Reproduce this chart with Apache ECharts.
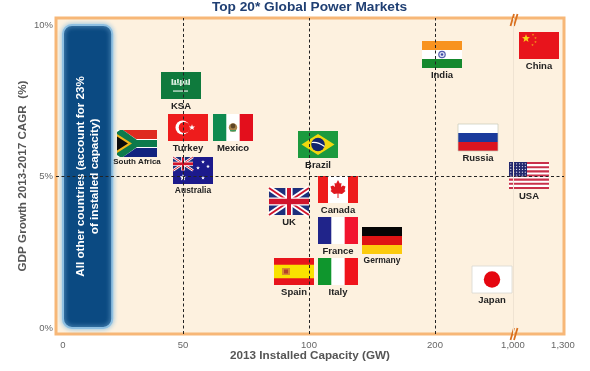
<!DOCTYPE html>
<html>
<head>
<meta charset="utf-8">
<script src="https://cdn.jsdelivr.net/npm/echarts@6/dist/echarts.min.js"></script>
<style>
html,body{margin:0;padding:0;background:#fff;}
#chart{width:590px;height:371px;filter:blur(0.3px);}
</style>
</head>
<body>
<div id="chart"></div>
<script>
var countries = ['KSA','Turkey','Mexico','South Africa','Australia','Brazil','India','China','Russia','USA','Canada','UK','France','Germany','Spain','Italy','Japan'];
var capacityGW = [49,52,70,31,54,107,269,1156,646,1096,123,92,123,158,94,123,781];
var growthPct = [8.0,6.63,6.63,6.1,5.2,6.07,9.03,9.32,6.27,5.03,4.57,4.17,3.2,2.87,1.86,1.86,1.6];

// x axis is broken, so tick capacity values sit at hand-read axis positions
var xTickGW = [0,50,100,200,1000,1300];
var xTickPos = [0,120,246,372,450,500];
var xTickLabels = ['0','50','100','200','1,000','1,300'];
var yTicks = [0,5,10];
var otherCountriesGW = 20.5;

function toPos(gw){
    for(var i=1;i<xTickGW.length;i++){
        if(gw<=xTickGW[i]){
            return xTickPos[i-1]+(gw-xTickGW[i-1])/(xTickGW[i]-xTickGW[i-1])*(xTickPos[i]-xTickPos[i-1]);
        }
    }
    return xTickPos[xTickPos.length-1];
}

var FW = 40, FH = 27;

function rect(x,y,w,h,c){
    return {type:'rect',shape:{x:x,y:y,width:w,height:h},style:{fill:c}};
}
function circle(x,y,r,c){
    return {type:'circle',shape:{cx:x,cy:y,r:r},style:{fill:c}};
}
function poly(pts,c){
    return {type:'polygon',shape:{points:pts},style:{fill:c}};
}
function star(x,y,r,c){
    var pts=[];
    for(var i=0;i<10;i++){
        var a=-Math.PI/2+i*Math.PI/5;
        var q=i%2?r*0.42:r;
        pts.push([x+q*Math.cos(a),y+q*Math.sin(a)]);
    }
    return poly(pts,c);
}
function seg(x1,y1,x2,y2,c,w){
    return {type:'line',shape:{x1:x1,y1:y1,x2:x2,y2:y2},style:{stroke:c,lineWidth:w}};
}
function vbars(a,b,c){
    return [rect(0,0,FW/3+0.5,FH,a),rect(FW/3,0,FW/3+0.5,FH,b),rect(2*FW/3,0,FW/3,FH,c)];
}
function hbars(a,b,c){
    return [rect(0,0,FW,FH/3+0.5,a),rect(0,FH/3,FW,FH/3+0.5,b),rect(0,2*FH/3,FW,FH/3,c)];
}
function jack(w,h){
    return [
        rect(0,0,w,h,'#1c2f7c'),
        seg(0,0,w,h,'#fff',h*0.2),seg(w,0,0,h,'#fff',h*0.2),
        seg(0,0,w,h,'#d0142c',h*0.07),seg(w,0,0,h,'#d0142c',h*0.07),
        rect(w*0.41,0,w*0.18,h,'#fff'),rect(0,h*0.35,w,h*0.3,'#fff'),
        rect(w*0.45,0,w*0.1,h,'#d0142c'),rect(0,h*0.4,w,h*0.2,'#d0142c')
    ];
}

var flags = {
    'KSA':function(){
        var c=[rect(0,0,FW,FH,'#0f7a3d')];
        for(var i=0;i<7;i++){
            c.push(rect(10.5+i*2.8,7+(i%2),1.7,6-(i%3),'#dcefe2'));
        }
        c.push(rect(11,11.5,18,1.2,'#bfe0ca'),rect(12,18.5,15,1.1,'#f2f8f3'));
        return c;
    },
    'Turkey':function(){
        return [rect(0,0,FW,FH,'#ee1c1c'),circle(14.5,13.5,7,'#fff'),circle(16.3,13.5,5.6,'#ee1c1c'),star(24,13.5,3.2,'#fff')];
    },
    'Mexico':function(){
        return vbars('#0f8a50','#fff','#e30f1c').concat([circle(20,13.5,4.2,'#a7834a'),circle(20,12,2.4,'#5e4526'),rect(17,16,6,1.4,'#3d9a5c')]);
    },
    'South Africa':function(){
        return [
            rect(0,0,FW,13.5,'#df2a1f'),rect(0,13.5,FW,13.5,'#12237f'),
            poly([[0,0],[6,0],[19,9],[40,9],[40,18],[19,18],[6,27],[0,27]],'#fff'),
            poly([[0,2],[3,0],[6,0],[20,10],[40,10],[40,17],[20,17],[6,27],[3,27],[0,25]],'#0d7a4c'),
            poly([[0,4],[15,13.5],[0,23]],'#f3b61a'),
            poly([[0,6.5],[11,13.5],[0,20.5]],'#0c0c0c')
        ];
    },
    'Australia':function(){
        var c=[rect(0,0,FW,FH,'#1c1a8c')].concat(jack(20,13.5));
        c.push(star(10,20.5,3.6,'#fff'),star(30,5,2,'#fff'),star(30,21,2,'#fff'),star(25,11,2,'#fff'),star(35,9.5,2,'#fff'));
        return c;
    },
    'Brazil':function(){
        return [rect(0,0,FW,FH,'#1c9a3e'),poly([[20,3],[36.5,13.5],[20,24],[3.5,13.5]],'#f1d80f'),circle(20,13.5,6.8,'#12276e'),
            {type:'path',shape:{pathData:'M13.8 11.5 Q20 10.5 26.5 15.5',x:0,y:0},style:{fill:null,stroke:'#fff',lineWidth:1.1}}];
    },
    'India':function(){
        return hbars('#f8931f','#fff','#15892d').concat([circle(20,13.5,3.8,'#5560b0'),circle(20,13.5,2.6,'#dfe1f2'),circle(20,13.5,1.2,'#3b4aa5')]);
    },
    'China':function(){
        return [rect(0,0,FW,FH,'#e8141c'),star(7,6.5,4.2,'#f6d418'),star(14,2.8,1.3,'#f6a018'),star(16.5,6,1.3,'#f6a018'),star(16.5,10,1.3,'#f6a018'),star(13.5,13,1.3,'#f6a018')];
    },
    'Russia':function(){
        var c=hbars('#fff','#1a3a9c','#dc1520');
        c.push({type:'rect',shape:{x:0,y:0,width:FW,height:FH},style:{fill:null,stroke:'#c5c9b8',lineWidth:0.7}});
        return c;
    },
    'USA':function(){
        var c=[rect(0,0,FW,FH,'#fff')];
        for(var i=0;i<7;i++){
            c.push(rect(0,i*FH*2/13,FW,FH/13,'#c9304a'));
        }
        c.push(rect(0,0,18,14.5,'#24296e'));
        for(var r=0;r<5;r++){
            for(var k=0;k<6;k++){
                c.push(circle(1.8+k*2.9,1.8+r*2.8,0.6,'#e8eaf5'));
            }
        }
        return c;
    },
    'Canada':function(){
        return [rect(0,0,10,FH,'#ee1c1c'),rect(10,0,20,FH,'#fff'),rect(30,0,10,FH,'#ee1c1c'),
            poly([[20,4],[21.8,7.5],[23.5,7],[23,11],[25,9.5],[27.5,10.5],[26.5,14],[27.5,15],[24,18],[20.5,17.5],[20.5,22],[19.5,22],[19.5,17.5],[16,18],[12.5,15],[13.5,14],[12.5,10.5],[15,9.5],[17,11],[16.5,7],[18.2,7.5]],'#e0181f')];
    },
    'UK':function(){
        return jack(FW,FH);
    },
    'France':function(){
        return vbars('#20248a','#fff','#f2142e');
    },
    'Germany':function(){
        return hbars('#050505','#df1414','#fccb0d');
    },
    'Spain':function(){
        return [rect(0,0,FW,FH,'#e8141c'),rect(0,6.8,FW,13.4,'#f9e200'),rect(8,10,8,7,'#d88a2f'),rect(10,11.5,4,4,'#b3432a')];
    },
    'Italy':function(){
        return vbars('#0f962d','#fff','#f0141c');
    },
    'Japan':function(){
        return [rect(0,0,FW,FH,'#fff'),circle(20,13.5,8.2,'#e5060f'),
            {type:'rect',shape:{x:0,y:0,width:FW,height:FH},style:{fill:null,stroke:'#d8d8d0',lineWidth:0.8}}];
    }
};
var smallLabels = {'South Africa':8,'Germany':8.5,'Australia':8.5};

var chart = echarts.init(document.getElementById('chart'),null,{renderer:'canvas'});

var flagData=[];
for(var i=0;i<countries.length;i++){
    flagData.push([toPos(capacityGW[i]),growthPct[i],i]);
}

function renderFlag(params,api){
    var p=api.coord([api.value(0),api.value(1)]);
    var name=countries[api.value(2)];
    var size=smallLabels[name]||9.5;
    var children=flags[name]();
    children.push({type:'text',style:{text:name,x:FW/2,y:FH+(name==='South Africa'?1:2.5),textAlign:'center',textVerticalAlign:'top',
        font:'bold '+size+'px "Liberation Sans"',fill:'#222'}});
    return {type:'group',x:Math.round(p[0]-FW/2),y:Math.round(p[1]-FH/2),children:children};
}

function renderBox(params,api){
    var a=api.coord([0,10]);
    var b=api.coord([toPos(otherCountriesGW),0]);
    return {type:'group',children:[
        {type:'rect',shape:{x:a[0],y:a[1],width:b[0]-a[0],height:b[1]-a[1],r:9},
            style:{fill:'#0b4a82',stroke:'#8fc0e2',lineWidth:2,shadowBlur:5,shadowColor:'#8fc0e2'}},
        {type:'text',rotation:Math.PI/2,x:(a[0]+b[0])/2,y:(a[1]+b[1])/2,
            style:{text:'All other countries (account for 23%\nof installed capacity)',textAlign:'center',textVerticalAlign:'middle',
                font:'bold 11.7px "Liberation Sans"',fill:'#fff',lineHeight:13.5}}
    ]};
}

function renderBreak(params,api){
    var p=api.coord([xTickPos[4],api.value(1)]);
    return {type:'group',x:p[0],y:p[1],children:[
        seg(-2.5,6,1,-6,'#d9701f',1.8),seg(1,6,4.5,-6,'#d9701f',1.8)
    ]};
}

var dash={color:'#222',type:[3,2.5],width:1};

var option={
    animation:false,
    backgroundColor:'#fff',
    title:{
        text:'Top 20* Global Power Markets',
        left:309.5,top:0,padding:0,textAlign:'center',
        textStyle:{fontFamily:'Liberation Sans',fontSize:13.7,fontWeight:'bold',color:'#1f3f73'}
    },
    grid:{
        left:56,right:26,top:18,bottom:37,show:true,
        backgroundColor:'#fdf1df',borderColor:'#f7b777',borderWidth:3
    },
    xAxis:{
        type:'value',min:-7,max:501,
        name:'2013 Installed Capacity (GW)',nameLocation:'middle',nameGap:16,nameMoveOverlap:false,
        nameTextStyle:{fontFamily:'Liberation Sans',fontSize:11.7,fontWeight:'bold',color:'#555'},
        axisLine:{show:false},axisTick:{show:false},splitLine:{show:false},
        axisLabel:{
            customValues:xTickPos,margin:6,fontFamily:'Liberation Sans',fontSize:9.5,color:'#666',
            formatter:function(v){return xTickLabels[xTickPos.indexOf(v)];}
        }
    },
    yAxis:{
        type:'value',min:-0.2,max:10.23,
        name:'GDP Growth 2013-2017 CAGR  (%)',nameLocation:'middle',nameGap:27,nameMoveOverlap:false,
        nameTextStyle:{fontFamily:'Liberation Sans',fontSize:11.7,fontWeight:'bold',color:'#555'},
        axisLine:{show:false},axisTick:{show:false},splitLine:{show:false},
        axisLabel:{
            customValues:yTicks,margin:3,fontFamily:'Liberation Sans',fontSize:9.5,color:'#666',
            formatter:function(v){return v+'%';}
        }
    },
    series:[
        {
            type:'line',data:[],silent:true,z:1,
            markLine:{
                silent:true,symbol:'none',label:{show:false},animation:false,
                lineStyle:dash,
                data:[{xAxis:xTickPos[1]},{xAxis:xTickPos[2]},{xAxis:xTickPos[3]},{yAxis:5},
                    {xAxis:xTickPos[4],lineStyle:{color:'#efe3d2',type:'solid',width:1}}]
            }
        },
        {type:'custom',renderItem:renderBox,data:[[0,0]],z:2,silent:true,clip:false},
        {type:'custom',renderItem:renderFlag,data:flagData,z:3,silent:true,clip:false,encode:{x:0,y:1}},
        {type:'custom',renderItem:renderBreak,data:[[0,-0.2],[0,10.16]],z:4,silent:true,clip:false}
    ]
};
chart.setOption(option);
</script>
</body>
</html>
